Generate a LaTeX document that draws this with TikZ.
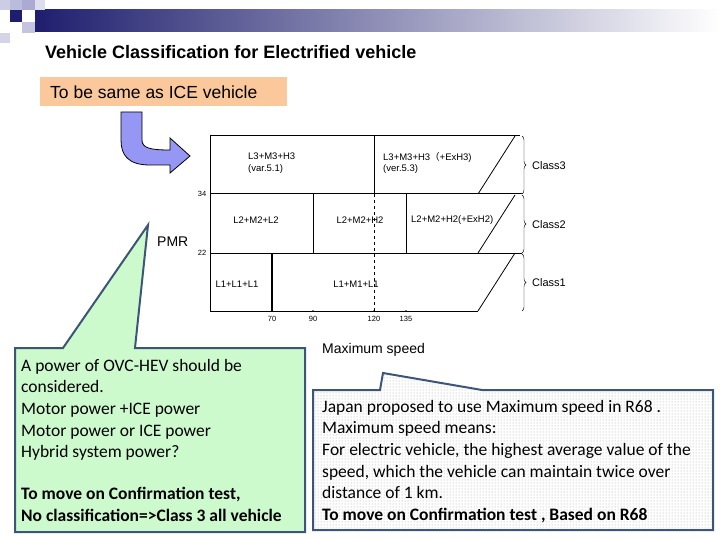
\documentclass[tikz,border=0pt]{standalone}
\usepackage{fontspec}
\setmainfont{Liberation Sans}
\newfontfamily\calfont{Carlito}
\newfontfamily\cjk{Noto Sans CJK JP}
\usetikzlibrary{patterns,decorations.pathreplacing}
\definecolor{navy}{RGB}{30,30,110}
\definecolor{lav}{RGB}{170,170,210}
\definecolor{orng}{RGB}{250,200,155}
\definecolor{arrblue}{RGB}{150,150,245}
\definecolor{grn}{RGB}{205,250,205}
\definecolor{edge}{RGB}{60,85,120}
\tikzset{
 sm/.style={font=\fontsize{9.5}{11.5}\selectfont,inner sep=0pt,align=left},
 tk/.style={font=\fontsize{7.5}{8}\selectfont,inner sep=0pt},
 cl/.style={font=\fontsize{11}{12}\selectfont,inner sep=0pt,anchor=west},
 tl/.style={line width=1pt},
 bt/.style={font=\calfont\fontsize{17.5}{21.6}\selectfont,align=left,anchor=north west,inner sep=0pt},
 callout/.style={draw=edge,line width=2pt,line join=miter}
}
\begin{document}
\begin{tikzpicture}[x=1pt,y=-1pt]
\useasboundingbox (0,0) rectangle (720,540);
% header
\shade[left color=navy,right color=white] (35,10) rectangle (720,32);
\fill[lav!60] (0,0) rectangle (10,10);
\fill[navy] (10,10) rectangle (22,22);
\fill[lav] (22,0) rectangle (35,10);
\fill[lav!70] (22,22) rectangle (35,33);
\fill[lav!50] (0,33) rectangle (10,43);
\fill[lav!80] (10,0) rectangle (22,10);
\fill[lav!40] (35,0) rectangle (45,10);
\node[anchor=west,inner sep=0pt,font=\bfseries\fontsize{18}{20}\selectfont] (title) at (45,52) {Vehicle Classification for Electrified vehicle};
\node[fill=orng,anchor=north west,minimum width=247,minimum height=29,inner sep=0pt] (ice) at (40,77) {};
\node[anchor=west,inner sep=0pt,font=\fontsize{17.5}{19}\selectfont] (icet) at (50,92) {To be same as ICE vehicle};
% blue arrow
\draw[fill=arrblue,line width=0.8pt] (121,112) -- (142,112) -- (142,140) .. controls (142,148) and (150,150) .. (170,150)
 -- (170,138) -- (190,156) -- (170,173) -- (170,165) -- (150,165) .. controls (128,165) and (121,155) .. (121,140) -- cycle;
% chart
\draw[tl] (210,136) -- (520,136);
\draw[tl] (210,194) -- (522,194);
\draw[tl] (210,253) -- (522,253);
\draw[tl] (210,311) -- (478,311);
\draw[tl] (210,136) -- (210,311);
\draw[tl] (374,136) -- (374,194);
\draw[dashed] (374,194) -- (374,311);
\draw[tl] (313,194) -- (313,253);
\draw[tl] (406,194) -- (406,253);
\draw[line width=1.4pt] (272,253) -- (272,311);
\draw[thick] (515,136) -- (478,194);
\draw[thick] (515,195) -- (478,253);
\draw[thick] (515,253) -- (478,311);
\node[sm,anchor=west] (l3a) at (248,163) {L3+M3+H3\\(var.5.1)};
\node[sm,anchor=west] (l3b) at (383,163) {L3+M3+H3{\cjk （}+ExH3)\\(ver.5.3)};
\node[sm] (l2a) at (256,220) {L2+M2+L2};
\node[sm] (l2b) at (360,220) {L2+M2+H2};
\node[sm,anchor=west] (l2c) at (411,220) {L2+M2+H2(+ExH2)};
\node[sm] (l1a) at (237,284) {L1+L1+L1};
\node[sm] (l1b) at (356,284) {L1+M1+L1};
\node[tk] (y34) at (202,194) {34};
\node[tk] (y22) at (202,253) {22};
\foreach \x/\t in {272/70,313/90,374/120,406/135}{
 \node[tk] (t\t) at (\x,319) {\t};
 \fill (\x,311) circle (0.8);}
\draw[decorate,decoration={brace,amplitude=4pt}] (522,136) -- (522,194);
\draw[decorate,decoration={brace,amplitude=4pt}] (522,195) -- (522,253);
\draw[decorate,decoration={brace,amplitude=4pt}] (522,254) -- (522,311);
\node[cl] (c3) at (532,166) {Class3};
\node[cl] (c2) at (532,225) {Class2};
\node[cl] (c1) at (532,283) {Class1};
\node[anchor=west,inner sep=0pt,font=\fontsize{14}{15}\selectfont] (pmr) at (157,242) {PMR};
\node[anchor=west,inner sep=0pt,font=\fontsize{14}{15}\selectfont] (ms) at (322,350) {Maximum speed};
% green callout
\draw[callout,fill=grn] (15,348) -- (63,348) -- (148,225) -- (135,348) -- (305,348) -- (305,532) -- (15,532) -- cycle;
\node[bt] (gt) at (21,359) {A power of OVC-HEV should be\\considered.\\Motor power +ICE power\\Motor power or ICE power\\Hybrid system power?};
\node[bt] (gt2) at (21,487) {\bfseries To move on Confirmation test,\\\bfseries No classification=>Class 3 all vehicle};
% right callout
\fill[white] (313,390) -- (380,390) -- (383,373) -- (482,390) -- (713,390) -- (713,530) -- (313,530) -- cycle;
\fill[pattern=dots,pattern color=gray!70] (313,390) -- (380,390) -- (383,373) -- (482,390) -- (713,390) -- (713,530) -- (313,530) -- cycle;
\draw[callout] (313,390) -- (380,390) -- (383,373) -- (482,390) -- (713,390) -- (713,530) -- (313,530) -- cycle;
\node[bt] (rt) at (322,400) {Japan proposed to use Maximum speed in R68 .\\Maximum speed means:\\For electric vehicle, the highest average value of the\\speed, which the vehicle can maintain twice over\\distance of 1 km.\\\bfseries To move on Confirmation test , Based on R68};
\end{tikzpicture}
\end{document}
